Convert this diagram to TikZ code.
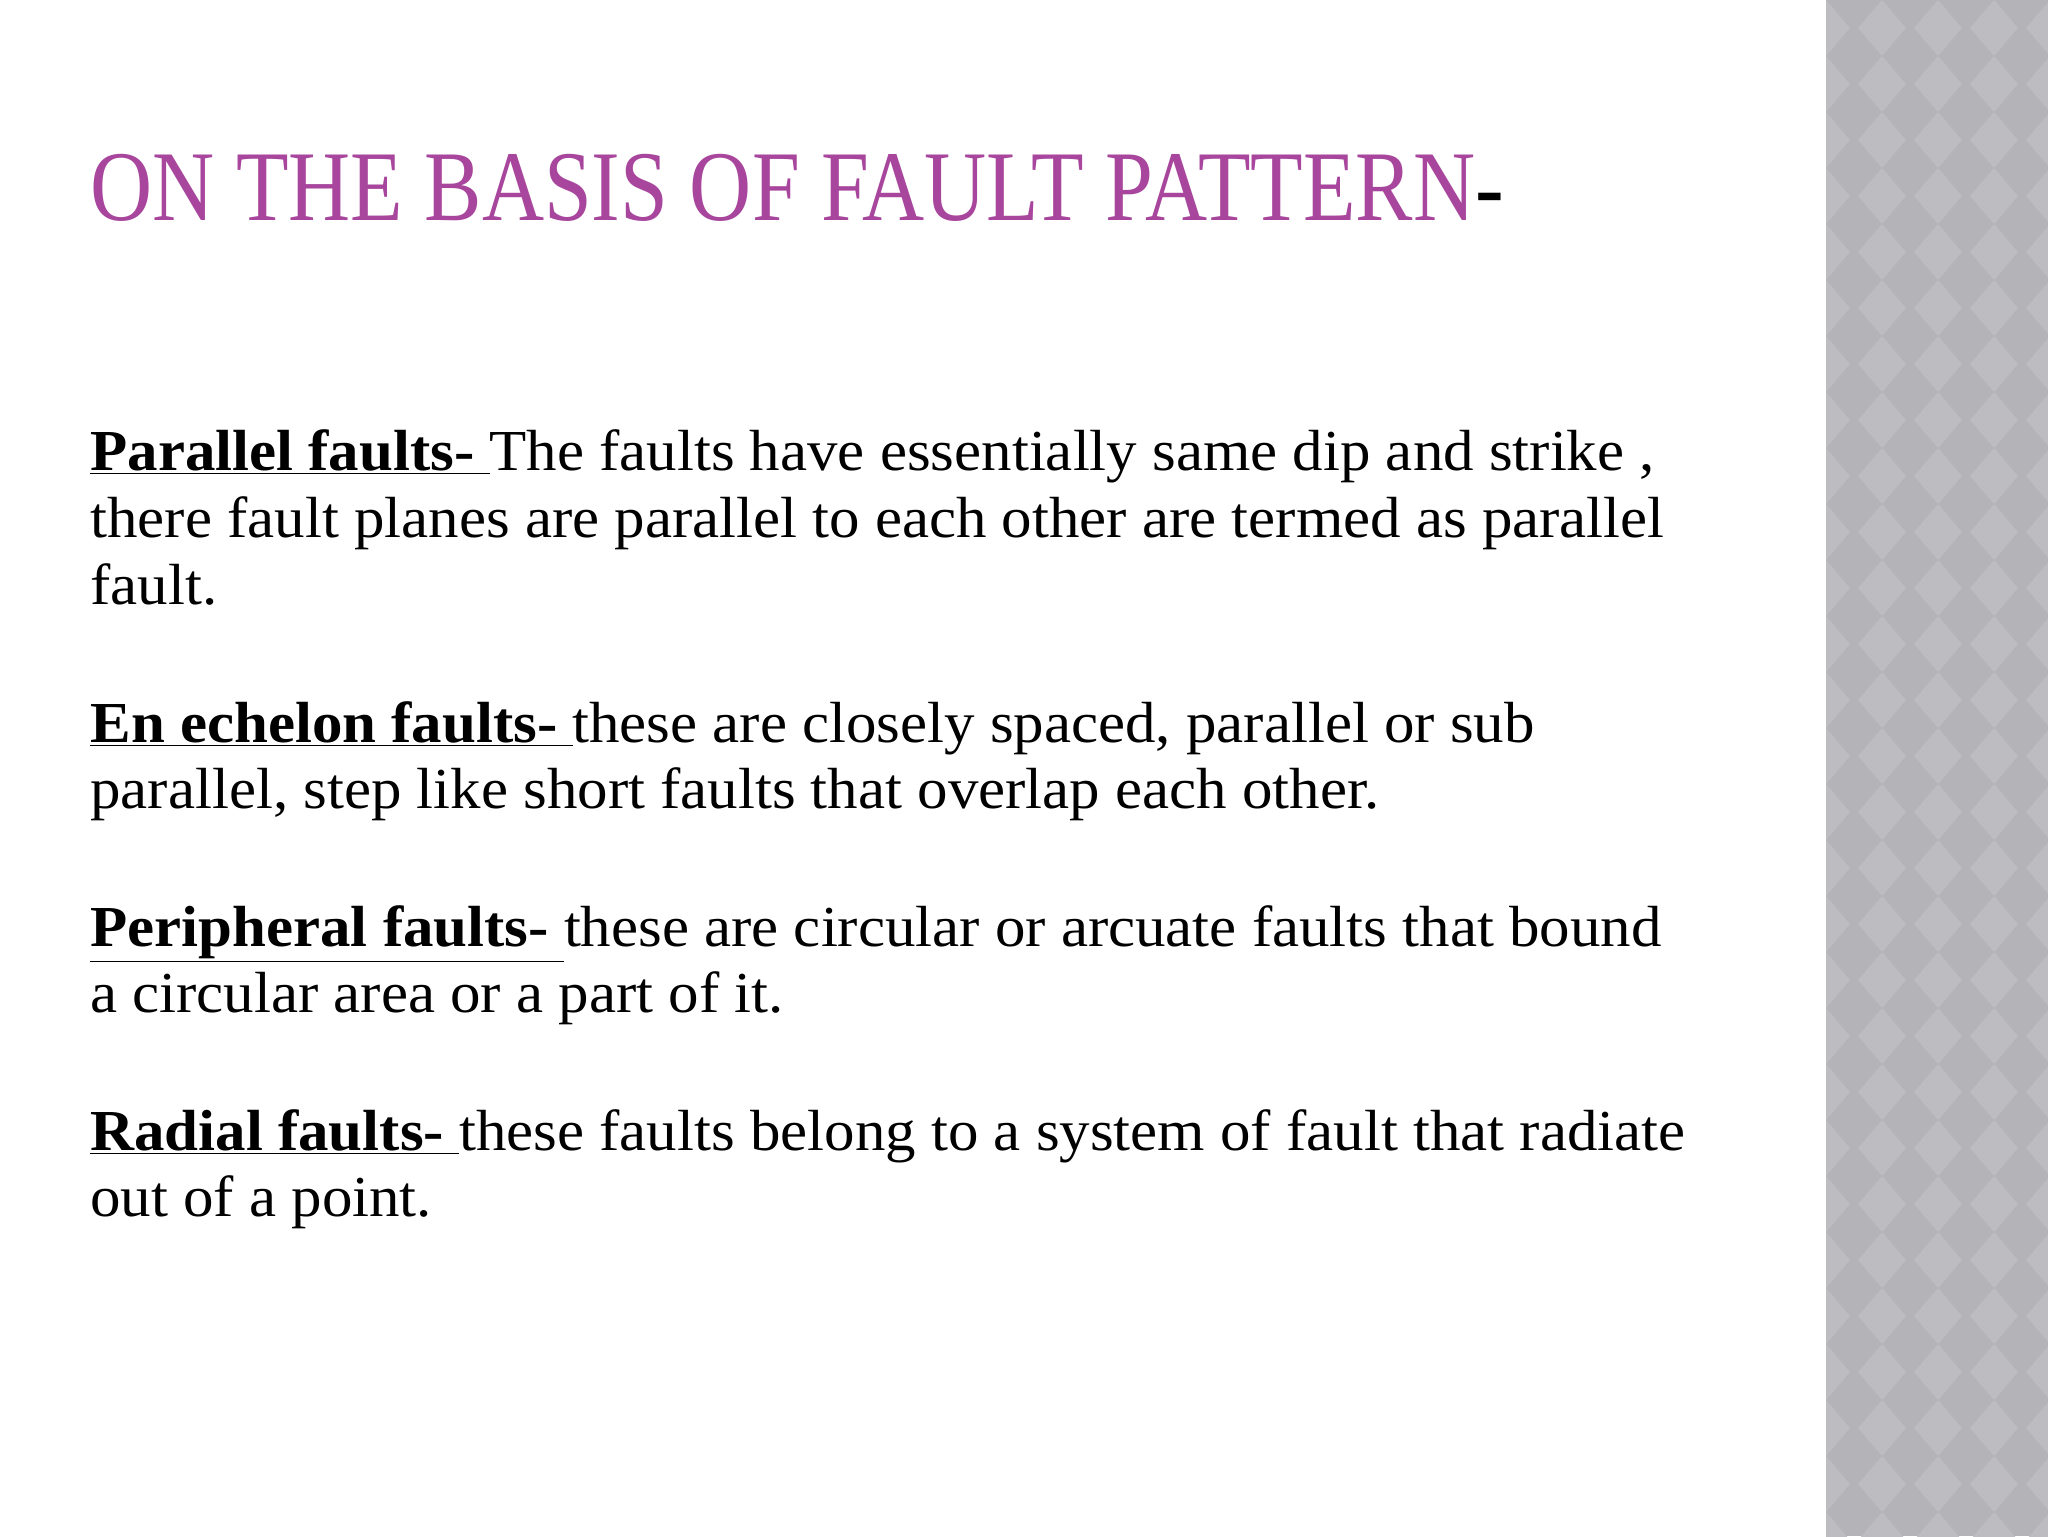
\documentclass[tikz,border=0pt]{standalone}
\usepackage{fontspec}
\setmainfont{Liberation Serif}
\definecolor{ttl}{HTML}{A8459C}
\definecolor{panel}{HTML}{B4B4B8}
\definecolor{dia}{HTML}{BDBDC1}
\begin{document}
\begin{tikzpicture}[x=0.5pt,y=-0.5pt,
  ln/.style={anchor=base west,inner sep=0pt,xscale=1.05,font=\fontsize{29}{34}\selectfont}]
\useasboundingbox (0,0) rectangle (2048,1536);
\fill[white] (0,0) rectangle (2048,1536);
\fill[panel] (1826,0) rectangle (2048,1536);
\begin{scope}
\clip (1826,0) rectangle (2048,1536);
\foreach \i in {0,...,4}{\foreach \j in {0,...,27}{
  \fill[dia] ({1826+\i*56},{\j*56}) -- ++(24,28) -- ++(-24,28) -- ++(-24,-28) -- cycle;}}
\end{scope}
\node[anchor=base west,inner sep=0pt,xscale=0.86,font=\fontsize{50}{60}\selectfont] (title) at (90,220) {\textcolor{ttl}{ON THE BASIS OF FAULT PATTERN}-};
\node[ln] (p1) at (90,470) {\underline{\textbf{Parallel faults-~}}The faults have essentially same dip and strike ,};
\node[ln] (p2) at (90,537) {there fault planes are parallel to each other are termed as parallel};
\node[ln] (p3) at (90,604) {fault.};
\node[ln] (e1) at (90,742) {\underline{\textbf{En echelon faults-~}}these are closely spaced, parallel or sub};
\node[ln] (e2) at (90,808) {parallel, step like short faults that overlap each other.};
\node[ln] (r1) at (90,946) {\underline{\textbf{Peripheral faults-~}}these are circular or arcuate faults that bound};
\node[ln] (r2) at (90,1012) {a circular area or a part of it.};
\node[ln] (d1) at (90,1150) {\underline{\textbf{Radial faults-~}}these faults belong to a system of fault that radiate};
\node[ln] (d2) at (90,1216) {out of a point.};
\end{tikzpicture}
\end{document}
